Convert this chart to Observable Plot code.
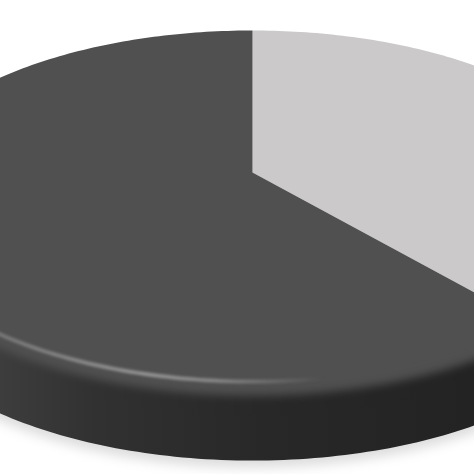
<!DOCTYPE html>
<html>
<head>
<meta charset="utf-8">
<script src="https://cdn.jsdelivr.net/npm/d3@7"></script>
<script src="https://cdn.jsdelivr.net/npm/@observablehq/plot@0.6"></script>
<style>html,body{margin:0;padding:0;background:#fff}svg{display:block}</style>
</head>
<body>
<script>
const categories = ["Light share", "Dark share"];
const values = [38.7, 61.3];
const sliceColors = ["#cbc9ca", "#505050"];

// Perspective view of the unit disc
const halfWidth = 363, halfDepth = 168.8, tilt = 0.1886;
const thickness = 80;
const project = (deg, r = 1, drop = 0) => {
  const a = deg * Math.PI / 180, u = r * Math.sin(a), v = r * Math.cos(a), d = 1 + tilt * v;
  return {x: halfWidth * u / d, y: -halfDepth * v / d + drop};
};

// Slices built from the values
const total = d3.sum(values);
let cumulative = 0;
const slicePoints = categories.flatMap((category, i) => {
  const start = cumulative / total * 360;
  cumulative += values[i];
  const end = cumulative / total * 360;
  const pts = [{...project(0, 0), category}];
  for (const deg of d3.range(start, end, 1)) pts.push({...project(deg), category});
  pts.push({...project(end), category});
  return pts;
});

// Side wall between two drops under the front rim
const band = (d1, d2) => {
  const angles = d3.range(68, 293, 1);
  return [...angles.map(t => project(t, 1, d1)), ...angles.slice().reverse().map(t => project(t, 1, d2))];
};
const rim = d3.range(68, 293, 1).map(t => project(t, 1, 1));
const shadow = band(20, thickness + 7);

const defs = () => {
  const g = document.createElementNS("http://www.w3.org/2000/svg", "defs");
  g.innerHTML = `
  <linearGradient id="wall" gradientUnits="userSpaceOnUse" x1="0" x2="474" y1="0" y2="0">
    <stop offset="0" stop-color="#3d3d3d"/><stop offset="0.2" stop-color="#313131"/>
    <stop offset="0.55" stop-color="#282828"/><stop offset="1" stop-color="#232323"/>
  </linearGradient>
  <linearGradient id="shine" gradientUnits="userSpaceOnUse" x1="0" x2="474" y1="0" y2="0">
    <stop offset="0" stop-color="#a8a8a8" stop-opacity="0.5"/><stop offset="0.3" stop-color="#a8a8a8" stop-opacity="0.85"/>
    <stop offset="0.45" stop-color="#a8a8a8" stop-opacity="0.7"/><stop offset="0.68" stop-color="#a8a8a8" stop-opacity="0"/>
  </linearGradient>`;
  return g;
};

const chart = Plot.plot({
  width: 474, height: 474, margin: 0,
  x: {domain: [-252, 222], range: [0, 474], axis: null},
  y: {domain: [-172, 302], range: [0, 474], axis: null},
  color: {domain: categories, range: sliceColors},
  style: {background: "#fff"},
  marks: [
    defs,
    Plot.line(shadow, {x: "x", y: "y", fill: "#dcdcdc", stroke: "none", curve: "linear", imageFilter: "blur(6px)"}),
    Plot.line(band(-3, 30), {x: "x", y: "y", fill: "#505050", stroke: "none", curve: "linear"}),
    Plot.line(slicePoints, {x: "x", y: "y", z: "category", fill: "category", stroke: "none", curve: "linear"}),
    Plot.line(band(15, 50), {x: "x", y: "y", fill: "url(#wall)", stroke: "none", curve: "linear", imageFilter: "blur(4px)"}),
    Plot.line(band(30, thickness), {x: "x", y: "y", fill: "url(#wall)", stroke: "none", curve: "linear"}),
    Plot.line(rim, {x: "x", y: "y", stroke: "url(#shine)", strokeWidth: 3.5, fill: "none", curve: "linear", imageFilter: "blur(1.5px)"})
  ]
});
document.body.append(chart);
</script>
</body>
</html>
